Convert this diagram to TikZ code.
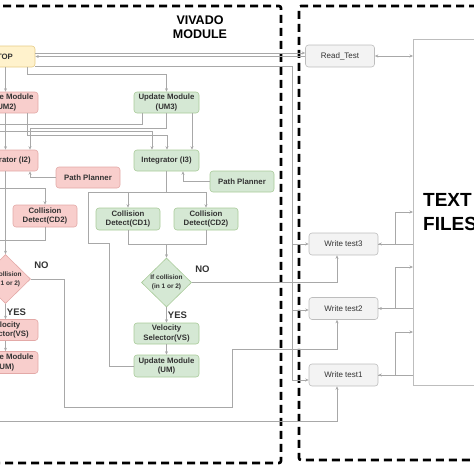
\documentclass[tikz,border=0pt]{standalone}
\usepackage{fontspec}
\setmainfont{Liberation Sans}
\usetikzlibrary{arrows.meta,shapes.geometric}
\definecolor{pinkfill}{HTML}{F8CECC}
\definecolor{pinkdraw}{HTML}{E3A9A7}
\definecolor{greenfill}{HTML}{D5E8D4}
\definecolor{greendraw}{HTML}{A9CB9A}
\definecolor{yellowfill}{HTML}{FFF2CC}
\definecolor{yellowdraw}{HTML}{E6CC86}
\definecolor{grayfill}{HTML}{F3F3F3}
\definecolor{graydraw}{HTML}{BDBDBD}
\definecolor{linegray}{HTML}{A8A8A8}
\definecolor{textgray}{HTML}{333333}

\begin{document}
\begin{tikzpicture}[x=1pt,y=-1pt,
	box/.style={rounded corners=3pt, line width=0.6pt, minimum width=65pt, minimum height=21pt, inner sep=1pt, align=center, text=textgray, font=\fontsize{7.8}{9.5}\selectfont\bfseries},
	redbox/.style={box, fill=pinkfill, draw=pinkdraw},
	greenbox/.style={box, fill=greenfill, draw=greendraw},
	yellowbox/.style={box, fill=yellowfill, draw=yellowdraw, minimum width=60pt},
	graybox/.style={box, fill=grayfill, draw=graydraw, minimum width=69pt, minimum height=22pt, font=\fontsize{8}{9.5}\selectfont},
	decision/.style={diamond, aspect=1, inner sep=0pt, minimum width=50pt, minimum height=49pt, line width=0.6pt, align=center, text=textgray, font=\fontsize{6.5}{9}\selectfont\bfseries},
	reddecision/.style={decision, fill=pinkfill, draw=pinkdraw},
	greendecision/.style={decision, fill=greenfill, draw=greendraw},
	answer/.style={inner sep=0pt, text=textgray, font=\fontsize{9.5}{10}\selectfont\bfseries},
	frame/.style={line width=2.6pt, dash pattern=on 8pt off 5pt, rounded corners=2pt},
	conn/.style={draw=linegray, line width=0.7pt},
	arr/.style={conn, -{Stealth[length=3.5pt,width=3pt]}}]
			%%%%% START %%%%%
			\useasboundingbox (0,0) rectangle (474,474);
			\clip (0,0) rectangle (474,474);
			
			\draw[frame] (-10,6) -- (281,6) -- (281,463) -- (-10,463);
			\draw[frame] (490,6) -- (299,6) -- (299,460) -- (490,460);
			\node[inner sep=0pt, anchor=north, align=center, font=\fontsize{12.5}{14}\selectfont\bfseries] (vivado) at (200,16) {VIVADO\\MODULE};
			
			\node[draw=graydraw, line width=0.8pt, anchor=north west, minimum width=80pt, minimum height=346pt] (files) at (413,39) {};
			\node[inner sep=0pt, anchor=north west, align=left, font=\fontsize{19}{24}\selectfont\bfseries] (filetext) at (423,193) {TEXT\\FILES};
			
			%%%%% LEFT COLUMN %%%%%
			\node[yellowbox] (top) at (5,56.5) {TOP};
			\node[redbox] (umtwo) at (5.5,102.5) {Update Module\\(UM2)};
			\node[redbox] (itwo) at (5.5,160.5) {Integrator (I2)};
			\node[redbox, minimum width=64pt] (pplan) at (88,177.5) {Path Planner};
			\node[redbox, minimum width=64pt, minimum height=22pt] (cdtwo) at (45,216) {Collision\\Detect(CD2)};
			\node[reddecision] (iftwo) at (5.5,279) {If collision\\(in 1 or 2)};
			\node[redbox] (vstwo) at (5.5,330) {Velocity\\Selector(VS)};
			\node[redbox, minimum height=22pt] (umfour) at (5.5,362.5) {Update Module\\(UM)};
			\node[answer] (notwo) at (41.5,265) {NO};
			\node[answer] (yestwo) at (16.5,312) {YES};
			
			%%%%% RIGHT COLUMN %%%%%
			\node[greenbox] (umthree) at (166.5,102.5) {Update Module\\(UM3)};
			\node[greenbox] (ithree) at (166.5,160.5) {Integrator (I3)};
			\node[greenbox, minimum width=64pt] (pplanr) at (242,181.5) {Path Planner};
			\node[greenbox, minimum width=64pt, minimum height=22pt] (cdone) at (128,219) {Collision\\Detect(CD1)};
			\node[greenbox, minimum width=64pt, minimum height=22pt] (cdthree) at (206,219) {Collision\\Detect(CD2)};
			\node[greendecision] (ifthree) at (166.5,282.5) {If collision\\(in 1 or 2)};
			\node[greenbox] (vsthree) at (166.5,333.5) {Velocity\\Selector(VS)};
			\node[greenbox, minimum height=22pt] (umfive) at (166.5,366) {Update Module\\(UM)};
			\node[answer] (nothree) at (202.5,269) {NO};
			\node[answer] (yesthree) at (177.5,315.5) {YES};
			
			%%%%% FILE SIDE %%%%%
			\node[graybox] (read) at (340,56) {Read\_Test};
			\node[graybox] (wthree) at (343.5,244) {Write test3};
			\node[graybox] (wtwo) at (343.5,308.5) {Write test2};
			\node[graybox] (wone) at (343.5,375) {Write test1};
			
			%%%%% CONNECTORS %%%%%
			\draw[arr] (top.south -| umtwo) -- (umtwo.north);
			\draw[arr] ([xshift=22pt]top.south) -- ++(0,7) -| (umthree.north);
			\draw[arr] ([yshift=3.5pt]top.east) -- ([yshift=3.5pt]top.east -| read.west);
			\draw[arr] ([yshift=-0.5pt]read.west) -- ([yshift=-0.5pt]read.west -| top.east);
			\draw[conn, {Stealth[length=3.5pt,width=3pt]}-{Stealth[length=3.5pt,width=3pt]}] (read.east) -- (read.east -| files.west);
			
			\coordinate (feed) at (292,66);
			\draw[conn] ([yshift=-9.5pt]top.east) -- (feed);
			\draw[arr] (feed) |- (wthree.west);
			\draw[arr] (feed) |- ([yshift=-1.5pt]wtwo.west);
			\draw[arr] (feed) |- ([yshift=-5pt]wone.west);
			
			\draw[arr] (umtwo.south) -- (itwo.north);
			\draw[arr] ([xshift=21.5pt]umtwo.south) -- ++(0,22) -| ([xshift=0.5pt]ithree.north);
			\draw[arr] (umthree.south) -- ++(0,15) -| ([xshift=24.5pt]itwo.north);
			\draw[conn] ([xshift=-24.5pt]umthree.south) -- ++(0,11) -- ++(-170,0);
			\coordinate (leftin) at (-20,131);
			\draw[arr] (leftin) -| ([xshift=-14.5pt]ithree.north);
			\draw[arr] ([xshift=25.5pt]umthree.south) -- ([xshift=25.5pt]ithree.north);
			
			\draw[arr] (pplan.west) -| ([xshift=24.5pt]itwo.south);
			\draw[arr] (pplanr.west) -| ([xshift=16.5pt]ithree.south);
			
			\coordinate (splitl) at ([yshift=-17pt]itwo.south);
			\draw[arr] (itwo.south) -- (iftwo.north);
			\draw[arr] (splitl) -| (cdtwo.north);
			\draw[conn] (splitl) -- ++(-60,0);
			\draw[conn] (cdtwo.south) -- ++(0,13) -- ++(-100,0);
			\draw[arr] (iftwo.south) -- (vstwo.north);
			\draw[arr] (vstwo.south) -- (umfour.north);
			\draw[arr] (iftwo.east) -- (64,279) -- (64,407) -- (232,407) -- (232,349) -| ([xshift=-6.5pt]wtwo.south);
			
			\draw[conn] (ithree.south) -- ++(0,21) coordinate (splitr);
			\draw[arr] (splitr) -| (cdone.north);
			\draw[arr] (splitr) -| (cdthree.north);
			\draw[conn] (cdone.south) -- ++(0,14) -| (cdthree.south);
			\draw[arr] ([yshift=-14pt]cdone.south -| ifthree.north) -- (ifthree.north);
			\draw[arr] (ifthree.south) -- (vsthree.north);
			\draw[arr] (vsthree.south) -- (umfive.north);
			\draw[conn] (umfive.west) -- ++(-24,0) |- (88,243) |- (splitr);
			\draw[arr] (ifthree.east) -| ([xshift=-6.5pt]wthree.south);
			
			\coordinate (umleft) at (-30,421);
			\draw[arr] (umleft) -| ([xshift=-6.5pt]wone.south);
			
			\draw[arr] (wthree.east -| files.west) -- (wthree.east);
			\draw[arr] (wthree.east) -- ++(17,0) |- ([yshift=32pt]wthree.east -| files.west);
			\draw[arr] (wtwo.east -| files.west) -- (wtwo.east);
			\draw[arr] (wtwo.east) -- ++(17,0) |- ([yshift=41.5pt]wtwo.east -| files.west);
			\draw[arr] (wone.east -| files.west) -- (wone.east);
			\draw[arr] (wone.east) -- ++(17,0) |- ([yshift=43pt]wone.east -| files.west);
			%%%%% END %%%%%
\end{tikzpicture}
\end{document}
